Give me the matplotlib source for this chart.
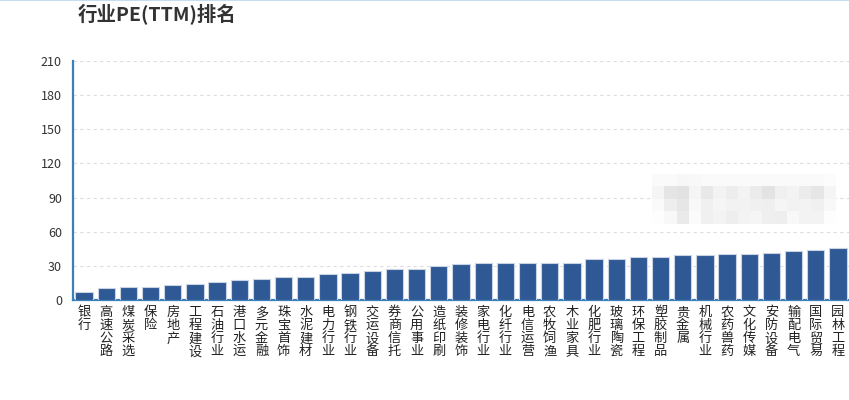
import matplotlib
matplotlib.use("Agg")
import matplotlib.pyplot as plt
import numpy as np

plt.rcParams['font.family'] = ['Noto Sans CJK SC', 'DejaVu Sans']

# industry names, sorted by PE(TTM) ascending
industries = ["银行", "高速公路", "煤炭采选", "保险", "房地产", "工程建设", "石油行业",
              "港口水运", "多元金融", "珠宝首饰", "水泥建材", "电力行业", "钢铁行业",
              "交运设备", "券商信托", "公用事业", "造纸印刷", "装修装饰", "家电行业",
              "化纤行业", "电信运营", "农牧饲渔", "木业家具", "化肥行业", "玻璃陶瓷",
              "环保工程", "塑胶制品", "贵金属", "机械行业", "农药兽药", "文化传媒",
              "安防设备", "输配电气", "国际贸易", "园林工程"]
pe_ttm = [6.8, 10.3, 11.2, 11.2, 13.0, 14.1, 15.9, 17.6, 18.8, 20.3, 20.6, 22.5, 23.7,
          25.5, 27.0, 27.0, 29.8, 31.6, 32.2, 32.2, 32.2, 32.6, 32.9, 35.7, 36.0,
          37.8, 38.1, 39.3, 39.5, 40.2, 40.4, 41.0, 42.8, 44.0, 45.7]
y_ticks = [0, 30, 60, 90, 120, 150, 180, 210]

# grey levels of the blurred (mosaic) patch on the right of the chart
blur_cells = [
    [250, 250, 247, 248, 250, 250, 250, 250, 250, 250, 250, 250, 250, 250, 252],
    [245, 229, 226, 245, 232, 243, 237, 243, 235, 227, 240, 243, 236, 230, 245],
    [250, 238, 230, 248, 240, 245, 242, 242, 240, 239, 245, 242, 243, 240, 248],
    [253, 248, 234, 251, 240, 243, 238, 243, 245, 239, 238, 248, 243, 243, 253],
]

bar_color = "#2e5995"
axis_color = "#3a80ba"

fig = plt.figure(figsize=(8.49, 4.0), dpi=100)
ax = fig.add_axes([73 / 849, 100 / 400, 776 / 849, 239 / 400])

x = list(range(len(industries)))
ax.bar(x, pe_ttm, width=0.78, color=bar_color, edgecolor="#c9d3e3", linewidth=0.8, zorder=3)

ax.set_xlim(-0.5, len(industries) - 0.5)
ax.set_ylim(0, 210)
ax.set_yticks(y_ticks)
ax.tick_params(axis='y', length=0, labelsize=9, labelcolor="#333333", pad=8)
ax.set_xticks([])
ax.grid(axis='y', color="#dddddd", linestyle=(0, (3, 3)), linewidth=0.8, zorder=0)

for side in ["top", "right"]:
    ax.spines[side].set_visible(False)
for side in ["left", "bottom"]:
    ax.spines[side].set_color(axis_color)
    ax.spines[side].set_linewidth(1.6)

# vertical, stacked category labels
for xi, name in zip(x, industries):
    ax.text(xi, -5.5, "\n".join(name), ha="center", va="top", fontsize=9.5,
            color="#222222", linespacing=1.0)

fig.text(78 / 849, 1 - 14 / 400, "行业PE(TTM)排名", fontsize=14, fontweight="bold",
         color="#333333", ha="left", va="center")

# blurred patch
bax = fig.add_axes([652 / 849, (400 - 224) / 400, 184 / 849, 50 / 400])
cells = np.array(blur_cells, dtype=float) / 255.0
bax.imshow(cells, cmap="gray", vmin=0, vmax=1, aspect="auto", interpolation="nearest")
bax.axis("off")

# thin light-blue border line at the very top
fig.add_artist(plt.Line2D([0, 1], [0.999, 0.999], color="#bcd6ec", linewidth=1.2))

fig.savefig("out.png", dpi=100)
